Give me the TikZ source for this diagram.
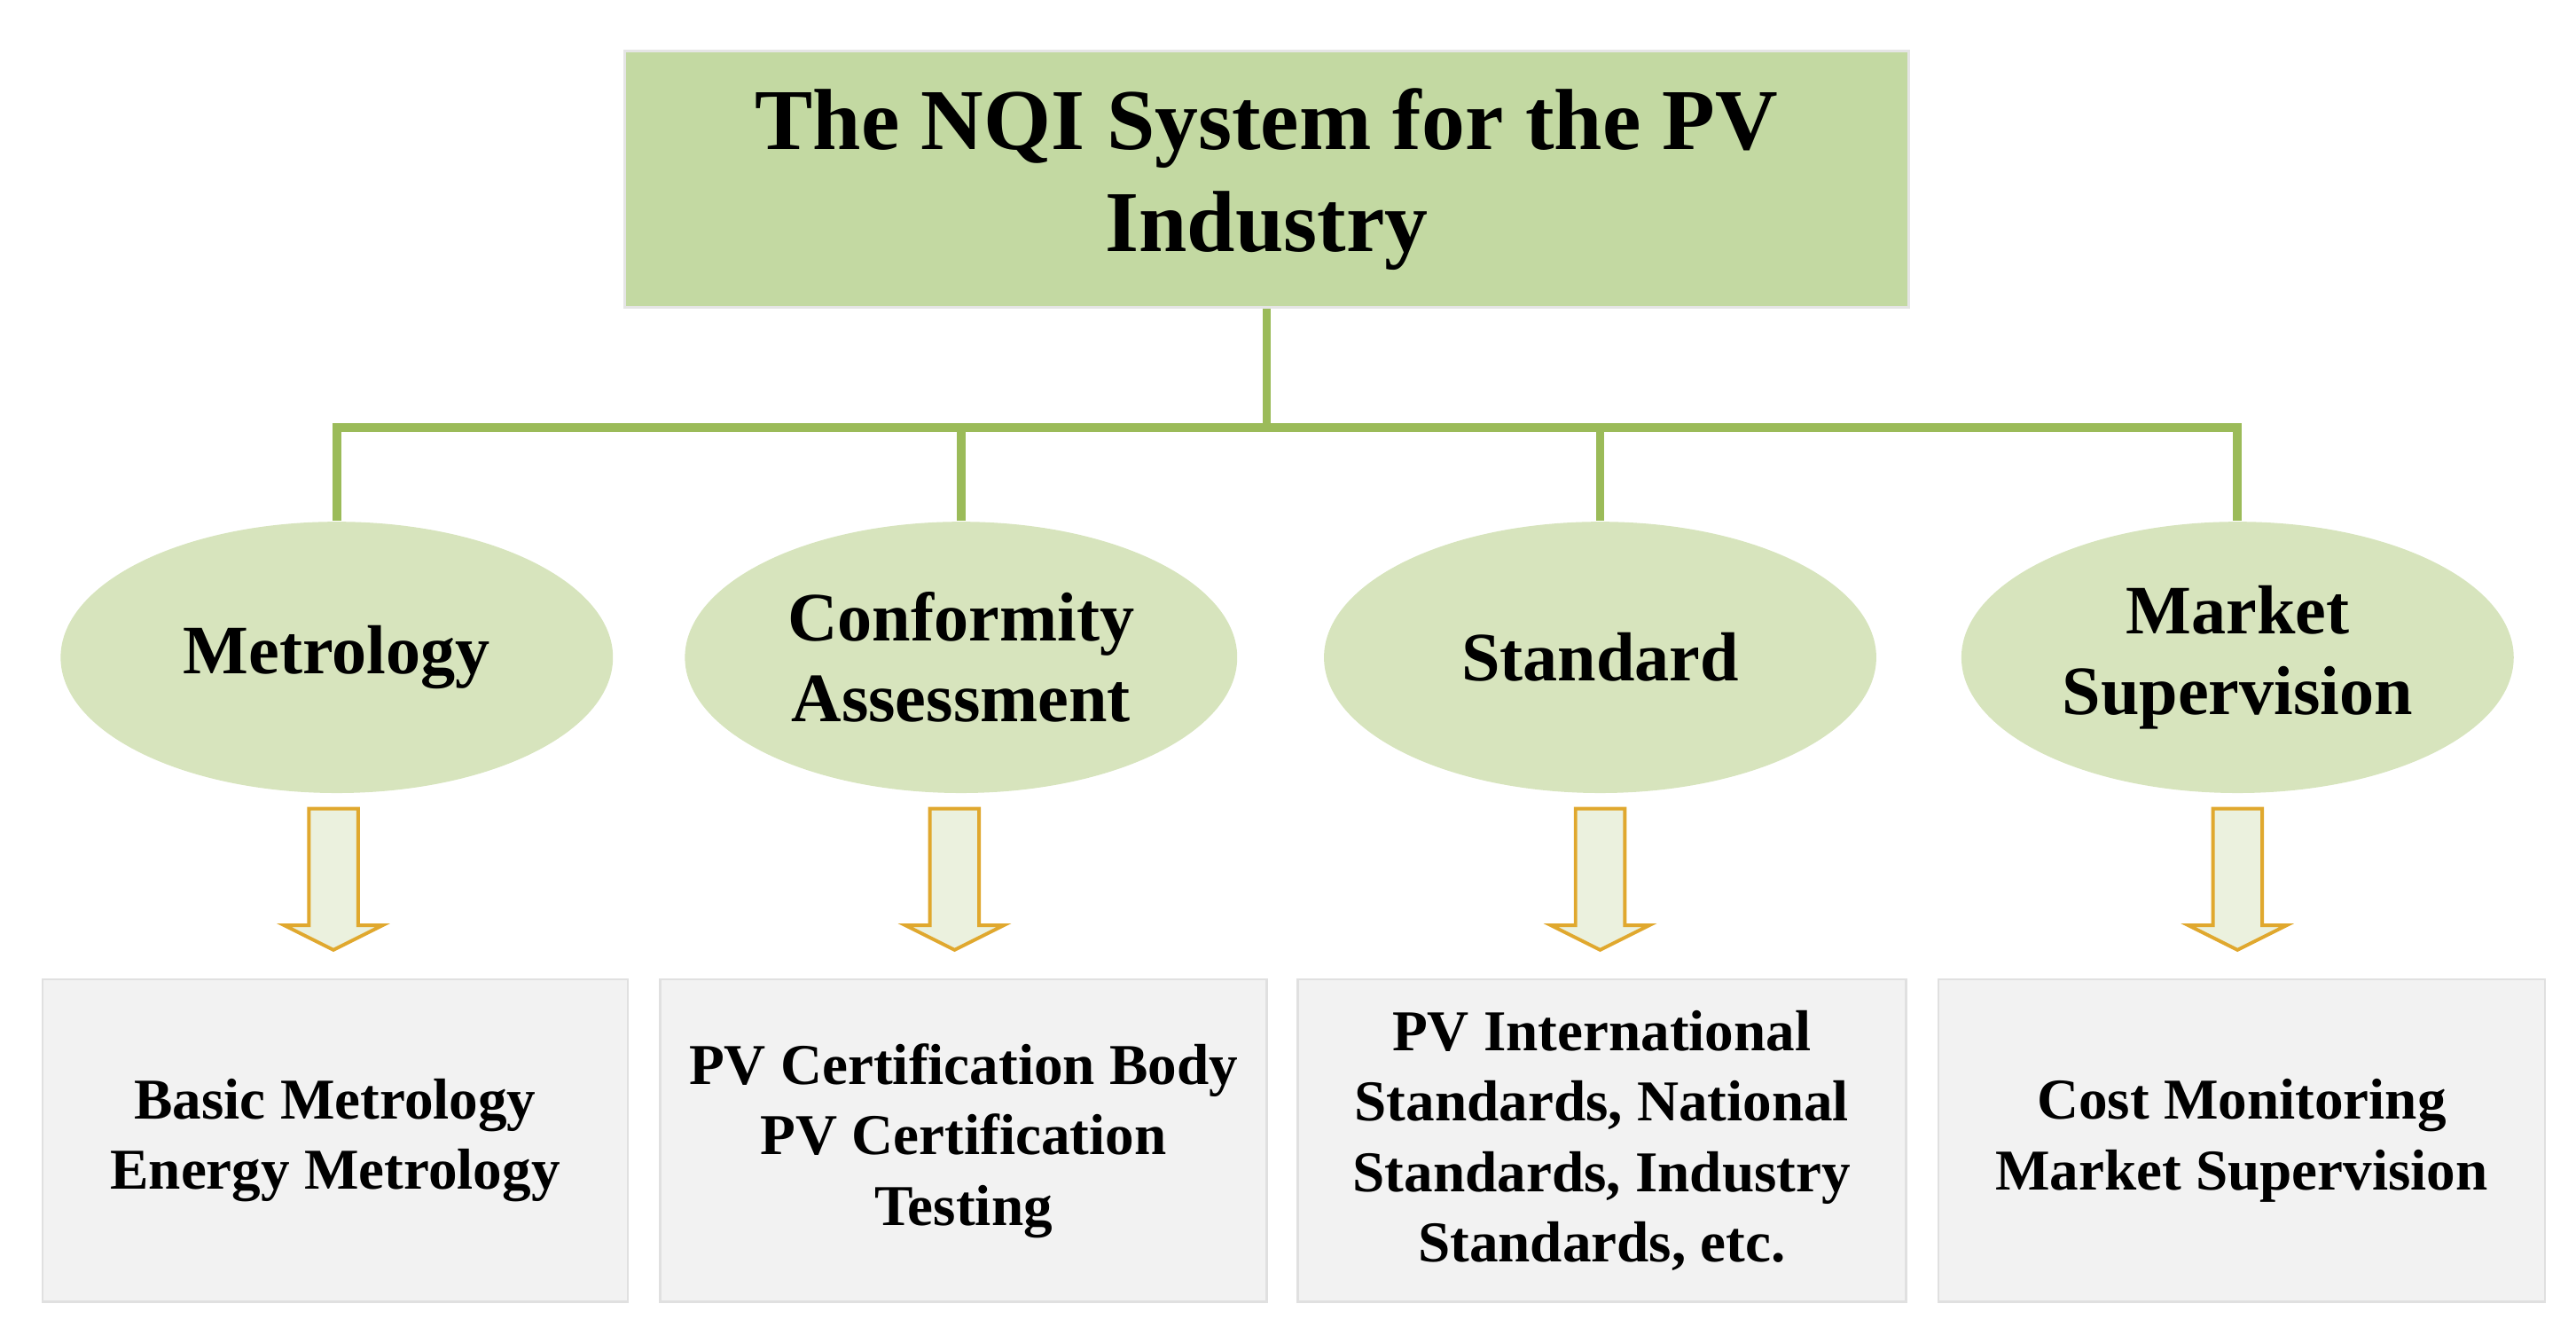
\documentclass[tikz,border=0pt]{standalone}
\usepackage{fontspec}
\setmainfont{Liberation Serif}
\begin{document}
\begin{tikzpicture}[x=0.01cm,y=-0.01cm,
  conn/.style={draw=green!40!black!10!olive!60!lime!70!white, line width=1.5pt},
  ell/.style={ellipse, fill=ellfill, minimum width=3.36cm, minimum height=1.65cm, font=\fontsize{12}{14}\selectfont\bfseries, align=center},
  bbox/.style={rectangle, fill=boxfill, draw=black!12, minimum width=3.6cm, minimum height=1.96cm, font=\fontsize{10}{12.2}\selectfont\bfseries, align=center},
  harrow/.style={fill=arrfill, draw=arrdraw, line width=0.6pt}]
\definecolor{ellfill}{HTML}{D7E4BD}
\definecolor{titlefill}{HTML}{C3D9A2}
\definecolor{linec}{HTML}{9BBB59}
\definecolor{boxfill}{HTML}{F2F2F2}
\definecolor{arrfill}{HTML}{EBF1DE}
\definecolor{arrdraw}{HTML}{E0A82E}
\usetikzlibrary{shapes.geometric}
\useasboundingbox (0,0) rectangle (1568,817);
\node[rectangle, fill=titlefill, draw=black!10, minimum width=7.81cm, minimum height=1.56cm, font=\fontsize{15}{17.6}\selectfont\bfseries, align=center] (title) at (771,109) {The NQI System for the PV\\Industry};
\coordinate (j) at (771,260);
\node[ell] (e1) at (205,400) {Metrology};
\node[ell] (e2) at (585,400) {Conformity\\Assessment};
\node[ell] (e3) at (974,400) {Standard};
\node[ell] (e4) at (1362,400) {Market\\Supervision};
\draw[draw=linec, line width=1.5pt] (title.south) -- (j);
\draw[draw=linec, line width=1.5pt] (e1.north) -- (205,260) -- (1362,260) -- (e4.north);
\draw[draw=linec, line width=1.5pt] (e2.north) -- (585,260);
\draw[draw=linec, line width=1.5pt] (e3.north) -- (974,260);
\foreach \x in {203,581,974,1362}{
  \draw[harrow] (\x-15,492) -- (\x+15,492) -- (\x+15,563) -- (\x+30,563) -- (\x,578) -- (\x-30,563) -- (\x-15,563) -- cycle;
}
\node[bbox, minimum width=3.56cm] (b1) at (204,694) {Basic Metrology\\Energy Metrology};
\node[bbox, minimum width=3.69cm] (b2) at (586.5,694) {PV Certification Body\\PV Certification\\Testing};
\node[bbox, minimum width=3.70cm] (b3) at (975,694) {PV International\\Standards, National\\Standards, Industry\\Standards, etc.};
\node[bbox, minimum width=3.69cm] (b4) at (1364.5,694) {Cost Monitoring\\Market Supervision};
\end{tikzpicture}
\end{document}
